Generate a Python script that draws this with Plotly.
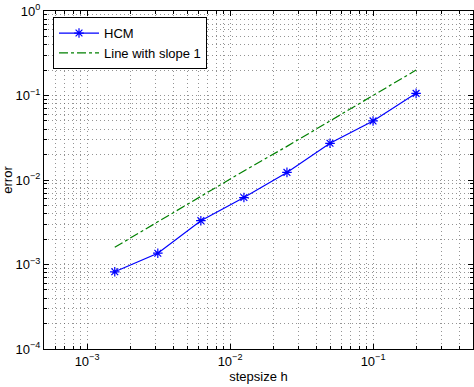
import plotly.graph_objects as go
import numpy as np

h = [0.0015625, 0.003125, 0.00625, 0.0125, 0.025, 0.05, 0.1, 0.2]
err_hcm = [0.00082, 0.00136, 0.0033, 0.0062, 0.0123, 0.0272, 0.050, 0.106]
slope1 = [0.0016, 0.0032, 0.0064, 0.0128, 0.025, 0.05, 0.1, 0.2]

xtick_vals = [1e-3, 1e-2, 1e-1]
xtick_text = ["10<sup>−3</sup>", "10<sup>−2</sup>", "10<sup>−1</sup>"]
ytick_vals = [1e-4, 1e-3, 1e-2, 1e-1, 1]
ytick_text = ["10<sup>−4</sup>", "10<sup>−3</sup>", "10<sup>−2</sup>", "10<sup>−1</sup>", "10<sup>0</sup>"]

xminor = [k * 10.0 ** e for e in range(-4, 0) for k in range(2, 10)]
yminor = [k * 10.0 ** e for e in range(-4, 0) for k in range(2, 10)]

fig = go.Figure()
fig.add_trace(go.Scatter(x=h, y=err_hcm, mode="lines+markers", name="HCM",
                         line=dict(color="#0000ff", width=1.2),
                         marker=dict(symbol="asterisk-open", size=8,
                                     line=dict(color="#0000ff", width=1.2))))
fig.add_trace(go.Scatter(x=h, y=slope1, mode="lines", name="Line with slope 1",
                         line=dict(color="#008000", width=1.2, dash="dashdot")))

fnt = "Liberation Sans, Arial"
gridc = "rgba(90,90,90,0.65)"
def axis_common(minor_vals):
    return dict(type="log", showline=True, linecolor="black", linewidth=1,
                mirror="allticks", ticks="inside", ticklen=5, tickcolor="black",
                showgrid=True, zeroline=False, automargin=False,
                gridcolor=gridc, griddash="1px,3px", gridwidth=1,
                tickfont=dict(family=fnt, size=13, color="black"),
                minor=dict(tickvals=minor_vals, ticks="inside", ticklen=3, tickcolor="black",
                           showgrid=True, gridcolor=gridc, griddash="1px,3px", gridwidth=1))

fig.update_xaxes(range=[np.log10(5e-4), np.log10(0.5)], tickvals=xtick_vals, ticktext=xtick_text,
                 title=dict(text="stepsize h", font=dict(family=fnt, size=13, color="black"),
                            standoff=0),
                 **axis_common(xminor))
fig.update_yaxes(range=[-4, 0], tickvals=ytick_vals, ticktext=ytick_text,
                 title=dict(text="error", font=dict(family=fnt, size=13, color="black"),
                            standoff=0),
                 **axis_common(yminor))

fig.update_layout(width=474, height=387,
                  margin=dict(l=44, r=1, t=11, b=38),
                  plot_bgcolor="white", paper_bgcolor="white",
                  font=dict(family=fnt, size=13, color="black"),
                  legend=dict(x=0.021, y=0.982, xanchor="left", yanchor="top",
                              bordercolor="black", borderwidth=1, bgcolor="white",
                              font=dict(size=13), tracegroupgap=0, itemwidth=40))

fig.write_html("out.html", config={"displayModeBar": False},
               post_script="document.body.style.margin='0';document.body.style.overflow='hidden';")
